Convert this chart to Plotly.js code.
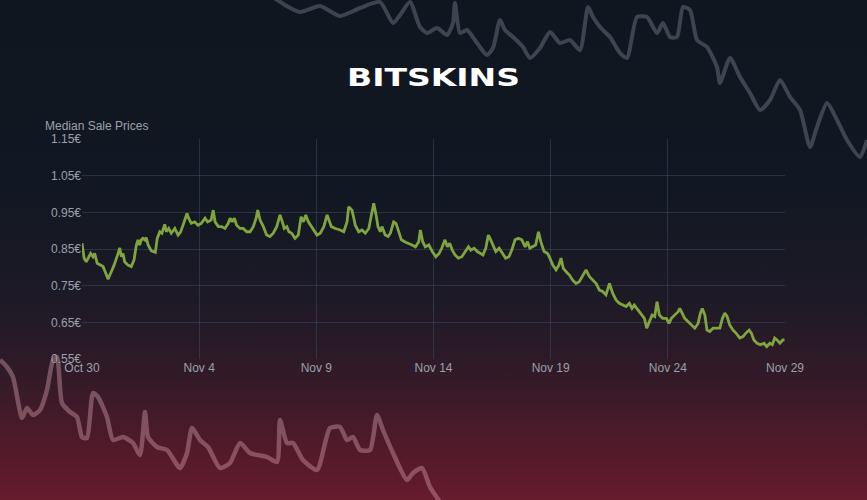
<!DOCTYPE html>
<html>
<head>
<meta charset="utf-8">
<script src="https://cdn.plot.ly/plotly-3.0.1.min.js"></script>
<style>
  html, body { margin: 0; padding: 0; }
  #chart {
    width: 867px; height: 500px;
    background: linear-gradient(to bottom, #10161f 0%, #121823 40%, #1d1a26 60%, #321a28 75%, #521a2a 90%, #661b2c 100%);
  }
</style>
</head>
<body>
<div id="chart"></div>
<script>
// ---- main series: days since Oct 30, median sale price (EUR)
const dayOffsets = [0,0.09,0.18,0.37,0.47,0.54,0.65,0.80,0.90,0.99,1.11,1.25,1.37,1.54,1.61,1.68,1.75,1.82,1.96,2.10,2.22,2.32,2.39,2.46,2.53,2.60,2.68,2.74,2.82,2.96,3.13,3.21,3.32,3.41,3.53,3.60,3.70,3.81,3.96,4.10,4.21,4.31,4.38,4.48,4.55,4.66,4.81,4.95,5.09,5.25,5.36,5.51,5.60,5.68,5.82,5.96,6.10,6.24,6.32,6.41,6.50,6.60,6.74,6.88,7.03,7.17,7.31,7.43,7.50,7.60,7.74,7.88,8.02,8.16,8.31,8.45,8.55,8.63,8.74,8.83,8.95,9.09,9.23,9.35,9.45,9.55,9.66,9.80,9.94,10.03,10.17,10.32,10.46,10.55,10.64,10.81,11.02,11.17,11.31,11.38,11.52,11.60,11.66,11.81,11.95,12.09,12.24,12.35,12.45,12.55,12.63,12.73,12.80,12.94,13.06,13.16,13.30,13.40,13.52,13.63,13.77,13.94,14.08,14.23,14.37,14.44,14.54,14.65,14.80,14.95,15.10,15.24,15.35,15.49,15.59,15.69,15.80,15.92,16.06,16.21,16.35,16.49,16.59,16.73,16.87,17.02,17.11,17.23,17.34,17.44,17.54,17.66,17.80,17.94,18.08,18.22,18.34,18.48,18.62,18.77,18.91,19.01,19.11,19.22,19.36,19.48,19.58,19.72,19.86,19.94,20.09,20.23,20.35,20.44,20.54,20.66,20.80,20.94,21.08,21.22,21.37,21.51,21.65,21.80,21.94,22.08,22.22,22.36,22.51,22.65,22.79,22.93,23.08,23.22,23.36,23.47,23.57,23.72,23.86,24.00,24.10,24.21,24.33,24.44,24.54,24.64,24.78,24.94,25.05,25.15,25.30,25.44,25.51,25.62,25.72,25.86,26.00,26.15,26.29,26.39,26.47,26.58,26.67,26.79,26.93,27.07,27.22,27.33,27.43,27.53,27.64,27.78,27.92,28.07,28.21,28.32,28.47,28.57,28.67,28.81,28.95,29.10,29.22,29.35,29.46,29.56,29.66,29.78,29.91,29.98];
const medianPrices = [0.866,0.825,0.815,0.838,0.829,0.838,0.811,0.806,0.802,0.788,0.768,0.788,0.806,0.838,0.853,0.829,0.838,0.815,0.806,0.802,0.820,0.861,0.875,0.861,0.875,0.879,0.875,0.881,0.861,0.845,0.841,0.879,0.897,0.893,0.917,0.897,0.906,0.893,0.906,0.888,0.897,0.915,0.929,0.947,0.934,0.920,0.924,0.915,0.920,0.934,0.924,0.929,0.956,0.924,0.911,0.911,0.906,0.920,0.934,0.924,0.934,0.915,0.906,0.906,0.897,0.897,0.911,0.934,0.956,0.929,0.911,0.888,0.884,0.893,0.911,0.943,0.924,0.906,0.911,0.897,0.893,0.879,0.888,0.938,0.924,0.943,0.924,0.911,0.897,0.888,0.893,0.911,0.943,0.929,0.911,0.906,0.902,0.897,0.924,0.965,0.956,0.934,0.915,0.897,0.902,0.893,0.906,0.943,0.975,0.943,0.911,0.897,0.911,0.888,0.884,0.893,0.924,0.920,0.897,0.875,0.870,0.866,0.861,0.856,0.870,0.902,0.870,0.856,0.861,0.843,0.829,0.838,0.852,0.875,0.856,0.866,0.847,0.834,0.825,0.829,0.843,0.856,0.847,0.852,0.843,0.838,0.834,0.852,0.888,0.875,0.861,0.843,0.852,0.838,0.825,0.829,0.847,0.875,0.879,0.875,0.856,0.870,0.852,0.856,0.861,0.897,0.870,0.843,0.838,0.829,0.806,0.793,0.806,0.825,0.797,0.788,0.779,0.765,0.756,0.761,0.779,0.793,0.775,0.765,0.756,0.738,0.734,0.725,0.756,0.729,0.711,0.702,0.697,0.693,0.702,0.688,0.697,0.684,0.675,0.661,0.634,0.652,0.670,0.666,0.706,0.670,0.661,0.661,0.647,0.661,0.670,0.679,0.688,0.675,0.661,0.652,0.643,0.634,0.647,0.675,0.688,0.670,0.629,0.625,0.634,0.634,0.634,0.661,0.675,0.666,0.643,0.629,0.620,0.607,0.611,0.620,0.629,0.620,0.602,0.593,0.589,0.593,0.584,0.593,0.589,0.607,0.602,0.593,0.602,0.602];

// ---- axis ticks
const xTickDays = [0, 5, 10, 15, 20, 25, 30];
const xTickLabels = ["Oct 30", "Nov 4", "Nov 9", "Nov 14", "Nov 19", "Nov 24", "Nov 29"];
const yTickValues = [0.55, 0.65, 0.75, 0.85, 0.95, 1.05, 1.15];
const yTickLabels = ["0.55€", "0.65€", "0.75€", "0.85€", "0.95€", "1.05€", "1.15€"];

// ---- faded decorative background series (banner artwork)
const decoGreyX = [270,285,300,320,340,360,380,393,400,410,420,427,437,447,453,455,460,467,477,487,493,500,505,513,523,530,540,550,560,570,580,588,593,600,610,620,627,637,647,657,663,670,677,683,690,697,707,717,720,730,740,750,760,770,780,790,800,810,817,827,837,847,860,867];
const decoGreyY = [-5,5,12,6,16,8,2,23,15,2,27,33,28,35,23,3,33,30,43,55,48,20,30,37,47,58,48,32,43,40,50,7,17,27,37,53,58,17,17,33,23,37,37,7,10,40,47,67,83,58,77,93,110,100,80,97,110,147,127,103,120,140,157,140];
const decoPinkX = [0,7,13,22,27,33,40,47,53,57,62,70,77,82,87,93,98,107,113,123,133,140,145,148,157,167,180,187,192,200,208,220,230,240,250,267,277,280,287,293,303,317,330,340,347,353,360,370,377,383,393,407,413,422,430,440];
const decoPinkY = [360,367,377,418,408,415,410,390,360,357,403,412,417,437,438,393,397,417,440,437,443,455,412,437,447,450,468,453,428,440,447,468,463,443,453,457,462,420,443,443,460,470,428,427,440,437,450,450,415,430,453,480,473,468,487,502];

const W = 867, H = 500;
const plotLeft = 82, plotRight = 785, plotTop = 139, plotBottom = 359;

const traces = [
  { x: decoGreyX, y: decoGreyY, xaxis: 'x', yaxis: 'y', type: 'scatter', mode: 'lines',
    line: { color: 'rgba(135,145,160,0.38)', width: 4, shape: 'spline', smoothing: 0.6 }, hoverinfo: 'skip', showlegend: false },
  { x: decoPinkX, y: decoPinkY, xaxis: 'x', yaxis: 'y', type: 'scatter', mode: 'lines',
    line: { color: 'rgba(225,170,185,0.38)', width: 4.5, shape: 'spline', smoothing: 0.6 }, hoverinfo: 'skip', showlegend: false },
  { x: dayOffsets, y: medianPrices, xaxis: 'x2', yaxis: 'y2', type: 'scatter', mode: 'lines',
    line: { color: '#80a53e', width: 2.8 }, showlegend: false, name: 'Median Sale Prices' }
];

const tickFont = { family: 'Liberation Sans, Arial, sans-serif', size: 12, color: '#9aa1aa' };
const gridCol = 'rgba(60,78,102,0.5)';

const layout = {
  width: W, height: H,
  margin: { l: 0, r: 0, t: 0, b: 0, pad: 0 },
  paper_bgcolor: 'rgba(0,0,0,0)',
  plot_bgcolor: 'rgba(0,0,0,0)',
  showlegend: false,
  xaxis: { domain: [0, 1], range: [0, W], visible: false, fixedrange: true, anchor: 'y' },
  yaxis: { domain: [0, 1], range: [H, 0], visible: false, fixedrange: true, anchor: 'x' },
  xaxis2: {
    domain: [plotLeft / W, plotRight / W], anchor: 'y2',
    range: [0, 30], tickvals: xTickDays, ticktext: xTickLabels,
    showgrid: true, gridcolor: gridCol, gridwidth: 1, zeroline: false,
    showline: false, ticks: '', tickfont: tickFont
  },
  yaxis2: {
    domain: [1 - plotBottom / H, 1 - plotTop / H], anchor: 'x2',
    range: [0.55, 1.15], tickvals: yTickValues, ticktext: yTickLabels,
    showgrid: true, gridcolor: gridCol, gridwidth: 1, zeroline: false,
    showline: false, ticks: '', tickfont: tickFont
  },
  annotations: [
    { text: 'Median Sale Prices', xref: 'paper', yref: 'paper', x: 43 / W, y: 1 - 126 / H,
      xanchor: 'left', yanchor: 'middle', showarrow: false,
      font: { family: 'Liberation Sans, Arial, sans-serif', size: 12, color: '#9aa1aa' } },
    { text: 'BITSKINS', xref: 'paper', yref: 'paper', x: 433.5 / W, y: 1 - 77 / H,
      xanchor: 'center', yanchor: 'middle', showarrow: false,
      font: { family: 'DejaVu Sans, sans-serif', size: 25, color: '#ffffff', weight: 'bold' } }
  ]
};

Plotly.newPlot('chart', traces, layout, { displayModeBar: false, staticPlot: true }).then(function (gd) {
  // stretch the wide logo lettering to the banner's width
  gd.querySelectorAll('.annotation-text').forEach(function (t) {
    if (t.textContent === 'BITSKINS') {
      t.setAttribute('textLength', '173');
      t.setAttribute('lengthAdjust', 'spacingAndGlyphs');
    }
  });
});
</script>
</body>
</html>
